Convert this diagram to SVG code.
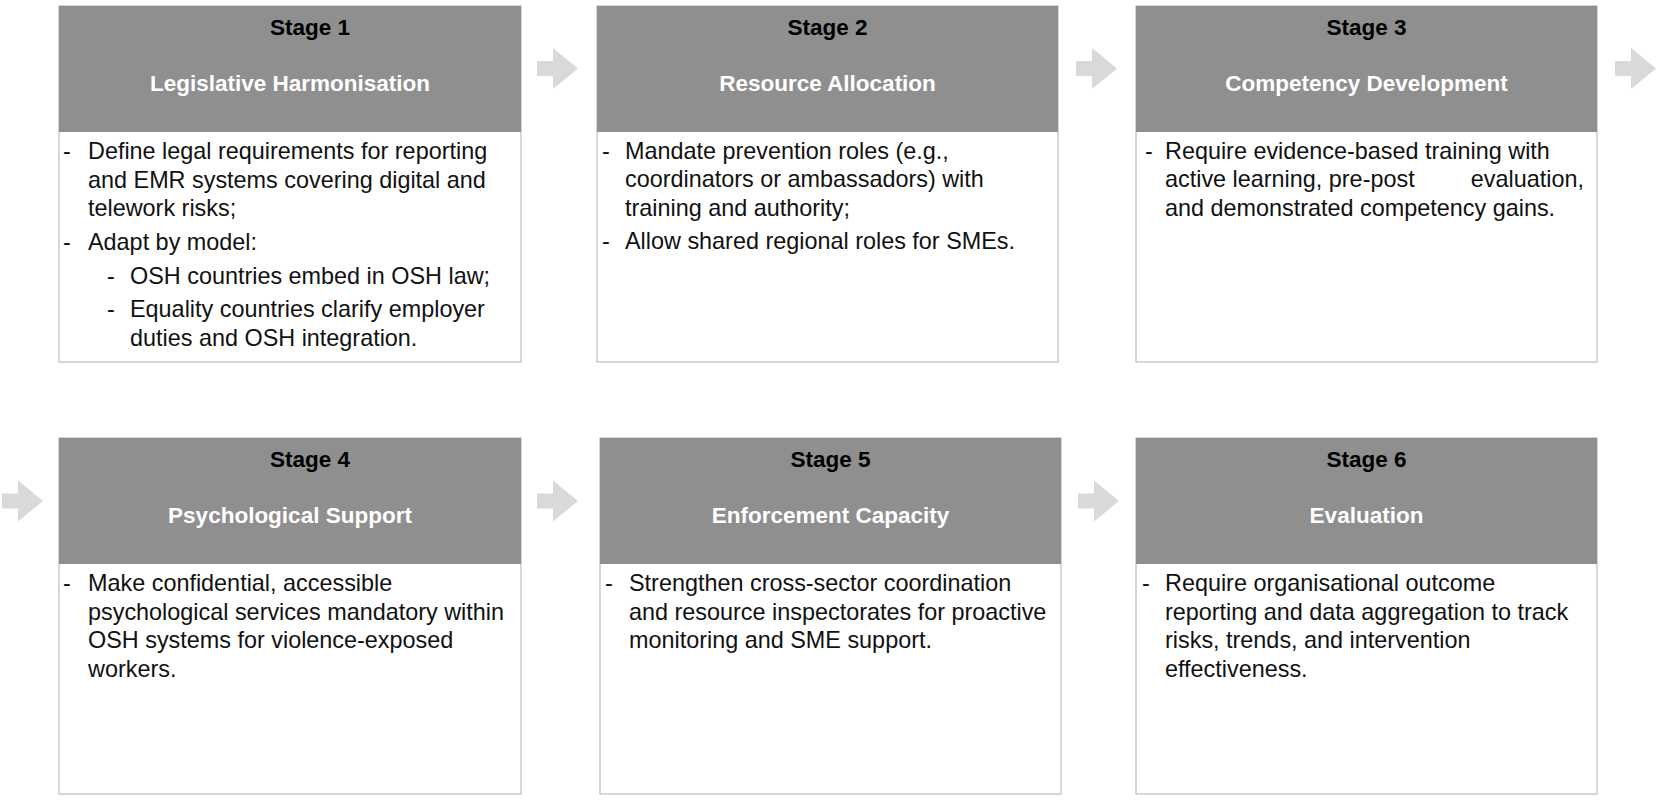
<svg xmlns="http://www.w3.org/2000/svg" xmlns:xlink="http://www.w3.org/1999/xlink" width="1665" height="803" viewBox="0 0 1665 803">
<style>
.box{fill:#ffffff;stroke:#bdbdbd;stroke-width:1.2}
.hdr{fill:#8f8f8f}
.st{font-family:"Liberation Sans",Arial,Helvetica,sans-serif;font-weight:bold;font-size:22.5px;fill:#000;text-anchor:middle}
.ti{font-family:"Liberation Sans",Arial,Helvetica,sans-serif;font-weight:bold;font-size:22.5px;fill:#fff;text-anchor:middle}
.bd{font-family:"Liberation Sans",Arial,Helvetica,sans-serif;font-size:23.4px;fill:#111}
.arr{fill:#d9d9d9}
</style>
<defs>
<path id="arrow" d="M0,-7.5 H16 V-20.5 L41,0 L16,20.5 V7.5 H0 Z"/>
</defs>
<rect width="1665" height="803" fill="#ffffff"/>

<g id="connectors">
<use xlink:href="#arrow" href="#arrow" class="arr" x="537" y="68.5"/>
<use xlink:href="#arrow" href="#arrow" class="arr" x="1076" y="68.5"/>
<use xlink:href="#arrow" href="#arrow" class="arr" x="1615" y="68.5"/>
<use xlink:href="#arrow" href="#arrow" class="arr" x="2" y="501"/>
<use xlink:href="#arrow" href="#arrow" class="arr" x="537" y="501"/>
<use xlink:href="#arrow" href="#arrow" class="arr" x="1078" y="501"/>
</g>

<g id="stage1">
<rect class="box" x="59" y="6" width="462" height="356"/>
<rect class="hdr" x="59" y="6" width="462" height="126"/>
<text class="st" x="310" y="35">Stage 1</text>
<text class="ti" x="290" y="91">Legislative Harmonisation</text>
<text class="bd" x="63" y="159">-</text>
<text class="bd" x="88" y="159">Define legal requirements for reporting</text>
<text class="bd" x="88" y="187.5">and EMR systems covering digital and</text>
<text class="bd" x="88" y="216">telework risks;</text>
<text class="bd" x="63" y="250">-</text>
<text class="bd" x="88" y="250">Adapt by model:</text>
<text class="bd" x="107" y="283.5">-</text>
<text class="bd" x="130" y="283.5">OSH countries embed in OSH law;</text>
<text class="bd" x="107" y="317">-</text>
<text class="bd" x="130" y="317">Equality countries clarify employer</text>
<text class="bd" x="130" y="345.5">duties and OSH integration.</text>
</g>

<g id="stage2">
<rect class="box" x="597" y="6" width="461" height="356"/>
<rect class="hdr" x="597" y="6" width="461" height="126"/>
<text class="st" x="827.5" y="35">Stage 2</text>
<text class="ti" x="827.5" y="91">Resource Allocation</text>
<text class="bd" x="602" y="158.5">-</text>
<text class="bd" x="625" y="158.5">Mandate prevention roles (e.g.,</text>
<text class="bd" x="625" y="187">coordinators or ambassadors) with</text>
<text class="bd" x="625" y="215.5">training and authority;</text>
<text class="bd" x="602" y="249">-</text>
<text class="bd" x="625" y="249">Allow shared regional roles for SMEs.</text>
</g>

<g id="stage3">
<rect class="box" x="1136" y="6" width="461" height="356"/>
<rect class="hdr" x="1136" y="6" width="461" height="126"/>
<text class="st" x="1366.5" y="35">Stage 3</text>
<text class="ti" x="1366.5" y="91">Competency Development</text>
<text class="bd" x="1145" y="158.5">-</text>
<text class="bd" x="1165" y="158.5">Require evidence-based training with</text>
<text class="bd" x="1165" y="187">active learning, pre-post</text>
<text class="bd" x="1584" y="187" text-anchor="end">evaluation,</text>
<text class="bd" x="1165" y="215.5">and demonstrated competency gains.</text>
</g>

<g id="stage4">
<rect class="box" x="59" y="438" width="462" height="356"/>
<rect class="hdr" x="59" y="438" width="462" height="126"/>
<text class="st" x="310" y="467">Stage 4</text>
<text class="ti" x="290" y="523">Psychological Support</text>
<text class="bd" x="63" y="591">-</text>
<text class="bd" x="88" y="591">Make confidential, accessible</text>
<text class="bd" x="88" y="619.5">psychological services mandatory within</text>
<text class="bd" x="88" y="648">OSH systems for violence-exposed</text>
<text class="bd" x="88" y="676.5">workers.</text>
</g>

<g id="stage5">
<rect class="box" x="600" y="438" width="461" height="356"/>
<rect class="hdr" x="600" y="438" width="461" height="126"/>
<text class="st" x="830.5" y="467">Stage 5</text>
<text class="ti" x="830.5" y="523">Enforcement Capacity</text>
<text class="bd" x="605" y="591">-</text>
<text class="bd" x="629" y="591">Strengthen cross-sector coordination</text>
<text class="bd" x="629" y="619.5">and resource inspectorates for proactive</text>
<text class="bd" x="629" y="648">monitoring and SME support.</text>
</g>

<g id="stage6">
<rect class="box" x="1136" y="438" width="461" height="356"/>
<rect class="hdr" x="1136" y="438" width="461" height="126"/>
<text class="st" x="1366.5" y="467">Stage 6</text>
<text class="ti" x="1366.5" y="523">Evaluation</text>
<text class="bd" x="1142" y="591">-</text>
<text class="bd" x="1165" y="591">Require organisational outcome</text>
<text class="bd" x="1165" y="619.5">reporting and data aggregation to track</text>
<text class="bd" x="1165" y="648">risks, trends, and intervention</text>
<text class="bd" x="1165" y="676.5">effectiveness.</text>
</g>
</svg>
